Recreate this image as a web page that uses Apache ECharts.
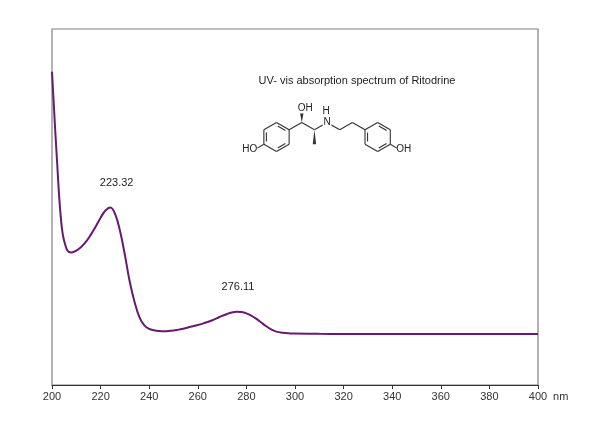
<!DOCTYPE html>
<html>
<head>
<meta charset="utf-8">
<script src="https://cdn.jsdelivr.net/npm/echarts@6/dist/echarts.min.js"></script>
<style>
html,body{margin:0;padding:0;background:#fff;}
#chart{width:600px;height:432px;}
</style>
</head>
<body>
<div id="chart"></div>
<script>
// Wavelength (nm) and absorbance (arbitrary units)
const wavelengths = [200,202,204,206,208,210,212,214,216,218,220,222,224,226,228,230,232,234,236,238,240,242,244,246,248,250,252,254,256,258,260,262,264,266,268,270,272,274,276,278,280,282,284,286,288,290,292,294,296,298,300,310,320,340,360,380,400];
const absorbance  = [3.52,2.55,1.78,1.53,1.49,1.51,1.55,1.61,1.69,1.78,1.88,1.96,1.995,1.92,1.73,1.46,1.16,0.93,0.76,0.67,0.63,0.615,0.607,0.604,0.606,0.612,0.622,0.633,0.647,0.66,0.674,0.69,0.708,0.728,0.752,0.776,0.798,0.815,0.824,0.82,0.805,0.78,0.745,0.705,0.663,0.628,0.603,0.59,0.583,0.58,0.578,0.575,0.574,0.573,0.573,0.573,0.573];
const peakLabels = ['223.32','276.11'];
const peakNm = [223.32, 276.11];
const peakAbs = [2.00, 0.824];
const xTicks = {min:200, max:400, step:20};
const titleText = 'UV- vis absorption spectrum of Ritodrine';

const FONT = 'Liberation Sans, Arial, sans-serif';
const chart = echarts.init(document.getElementById('chart'));

// --- chemical structure drawing (decoration) ---
const g = [];
const ink = '#333';
function line(x1,y1,x2,y2){
  g.push({type:'line',shape:{x1,y1,x2,y2},style:{stroke:ink,lineWidth:1.1},silent:true});
}
function ring(cx,cy,r){
  const v=[];
  for(let k=0;k<6;k++){const t=(-90+60*k)*Math.PI/180;v.push([cx+r*Math.cos(t),cy+r*Math.sin(t)]);}
  for(let k=0;k<6;k++){const a=v[k],b=v[(k+1)%6];line(a[0],a[1],b[0],b[1]);}
  [0,2,4].forEach(k=>{
    const a=v[k],b=v[(k+1)%6];
    const f=0.8;
    const ax=cx+(a[0]-cx)*f, ay=cy+(a[1]-cy)*f, bx=cx+(b[0]-cx)*f, by=cy+(b[1]-cy)*f;
    const s=0.12;
    line(ax+(bx-ax)*s, ay+(by-ay)*s, bx-(bx-ax)*s, by-(by-ay)*s);
  });
  return v;
}
function wedge(x1,y1,x2,y2,w){
  const dx=x2-x1, dy=y2-y1, L=Math.hypot(dx,dy), nx=-dy/L*w/2, ny=dx/L*w/2;
  g.push({type:'polygon',shape:{points:[[x1,y1],[x2+nx,y2+ny],[x2-nx,y2-ny]]},style:{fill:ink},silent:true});
}
function txt(x,y,s,align){
  g.push({type:'text',x,y,style:{text:s,fill:'#222',font:'10px '+FONT,align:align||'center',verticalAlign:'middle'},silent:true});
}
const r=14.6, dxb=r*Math.cos(Math.PI/6), dyb=r/2;
const L = ring(276.5,137,r);
const R = ring(276.5+dxb*8,137,r);
const pts=[L[1]];
for(let i=1;i<=6;i++){const p=pts[i-1];pts.push([p[0]+dxb, i%2? p[1]-dyb : p[1]+dyb]);}
line(pts[0][0],pts[0][1],pts[1][0],pts[1][1]);
line(pts[1][0],pts[1][1],pts[2][0],pts[2][1]);
function shortLine(a,b,sa,sb){
  const dx=b[0]-a[0],dy=b[1]-a[1],Ln=Math.hypot(dx,dy);
  line(a[0]+dx*sa/Ln,a[1]+dy*sa/Ln,b[0]-dx*sb/Ln,b[1]-dy*sb/Ln);
}
shortLine(pts[2],pts[3],0,5);
shortLine(pts[3],pts[4],5,0);
line(pts[4][0],pts[4][1],pts[5][0],pts[5][1]);
line(pts[5][0],pts[5][1],pts[6][0],pts[6][1]);
txt(pts[3][0],pts[3][1],'N');
txt(pts[3][0]-1,pts[3][1]-11,'H');
wedge(pts[1][0],pts[1][1],pts[1][0],pts[1][1]-9,3.4);
txt(pts[1][0]-4,pts[1][1]-14,'OH','left');
wedge(pts[2][0],pts[2][1],pts[2][0],pts[2][1]+14.6,3.4);
line(L[4][0],L[4][1],L[4][0]-6.5,L[4][1]+3.8);
txt(L[4][0]-6.5,L[4][1]+4.5,'HO','right');
line(R[2][0],R[2][1],R[2][0]+6.5,R[2][1]+3.8);
txt(R[2][0]+6,R[2][1]+4.5,'OH','left');
g.push({type:'text',x:357,y:81,style:{text:titleText,fill:'#222',font:'11px '+FONT,align:'center',verticalAlign:'middle'},silent:true});

const option = {
  animation:false,
  backgroundColor:'#fff',
  grid:{left:52,right:62,top:29,bottom:47,show:true,borderColor:'#808080',borderWidth:1.2,backgroundColor:'transparent'},
  xAxis:{
    type:'value',min:xTicks.min,max:xTicks.max,interval:xTicks.step,
    name:'nm',nameLocation:'end',nameGap:6,
    nameTextStyle:{color:'#333',fontSize:11,fontFamily:FONT,verticalAlign:'top',padding:[6,0,0,0]},
    axisLine:{lineStyle:{color:'#333',width:1}},
    axisTick:{show:true,length:4,lineStyle:{color:'#333'}},
    axisLabel:{color:'#333',fontSize:11,fontFamily:FONT,margin:6},
    splitLine:{show:false}
  },
  yAxis:{type:'value',min:0,max:4,show:false},
  series:[{
    type:'line',
    data:wavelengths.map((w,i)=>[w,absorbance[i]]),
    smooth:0.4,
    showSymbol:false,
    lineStyle:{color:'#661a70',width:2},
    markPoint:{
      symbol:'circle',symbolSize:0,
      label:{show:true,formatter:'{b}',color:'#222',fontSize:11,fontFamily:FONT},
      data:[
        {name:peakLabels[0],coord:[peakNm[0],peakAbs[0]],label:{offset:[8,-24]}},
        {name:peakLabels[1],coord:[peakNm[1],peakAbs[1]],label:{offset:[1,-25]}}
      ]
    }
  }],
  graphic:g
};
chart.setOption(option);
</script>
</body>
</html>
